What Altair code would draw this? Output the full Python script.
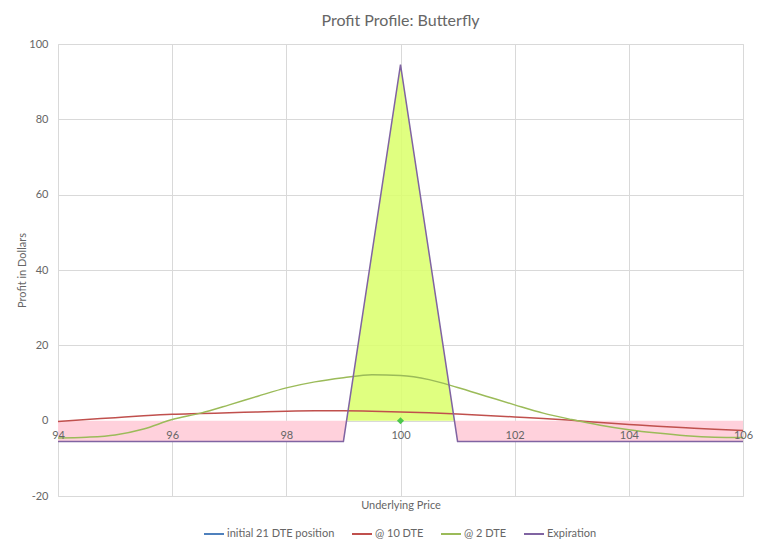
import altair as alt
import pandas as pd

# ---- data ----
prices = [94, 94.5, 95, 95.5, 96, 96.5, 97, 97.5, 98, 98.5, 99, 99.5, 100,
          100.5, 101, 101.5, 102, 102.5, 103, 103.5, 104, 104.5, 105, 105.5, 106]
pl_10dte = [-0.2, 0.3, 0.8, 1.3, 1.7, 1.9, 2.1, 2.3, 2.5, 2.6, 2.6, 2.5, 2.3,
            2.1, 1.8, 1.4, 1.0, 0.6, 0.1, -0.5, -1.0, -1.5, -1.9, -2.3, -2.6]
pl_2dte = [-4.6, -4.4, -3.8, -2.2, 0.3, 2.0, 4.2, 6.5, 8.7, 10.3, 11.4, 12.2, 12.0,
           10.9, 8.8, 6.5, 4.2, 2.0, 0.3, -1.2, -2.4, -3.3, -4.0, -4.4, -4.5]
exp_prices = [94, 99, 100, 101, 106]
exp_pl = [-5.5, -5.5, 94.5, -5.5, -5.5]
initial_price = [100]
initial_pl = [0]

x_ticks = [94, 96, 98, 100, 102, 104, 106]
y_ticks = [-20, 0, 20, 40, 60, 80, 100]

series_names = ["initial 21 DTE position", "@ 10 DTE", "@ 2 DTE", "Expiration"]
series_colors = ["#4F81BD", "#C0504D", "#9BBB59", "#8064A2"]

# ---- tables ----
df_lines = pd.concat([
    pd.DataFrame({"price": prices, "pl": pl_10dte, "series": "@ 10 DTE"}),
    pd.DataFrame({"price": prices, "pl": pl_2dte, "series": "@ 2 DTE"}),
])
df_exp = pd.DataFrame({"price": exp_prices, "pl": exp_pl, "series": "Expiration"})

# add zero crossings of the expiration profile for clean fills
pts = list(zip(exp_prices, exp_pl))
fill_x, fill_y = [], []
for i, (x0, y0) in enumerate(pts):
    fill_x.append(x0); fill_y.append(y0)
    if i + 1 < len(pts):
        x1, y1 = pts[i + 1]
        if (y0 < 0 < y1) or (y1 < 0 < y0):
            xc = x0 + (0 - y0) * (x1 - x0) / (y1 - y0)
            fill_x.append(xc); fill_y.append(0)
df_fill = pd.DataFrame({"price": fill_x, "pl": fill_y})
df_fill["pos"] = df_fill["pl"].clip(lower=0)
df_fill["neg"] = df_fill["pl"].clip(upper=0)
df_fill["zero"] = 0.0

df_init = pd.DataFrame({"price": initial_price, "pl": initial_pl,
                        "series": "initial 21 DTE position"})

FONT = "Lato"
GREY = "#666666"
W, H = 685, 452
ymin, ymax = y_ticks[0], y_ticks[-1]
zero_off = H * (0 - ymin) / (ymax - ymin)

xscale = alt.Scale(domain=[x_ticks[0], x_ticks[-1]], nice=False, zero=False)
yscale = alt.Scale(domain=[ymin, ymax], nice=False)

common = dict(labelFont=FONT, titleFont=FONT, labelColor=GREY, titleColor=GREY,
              labelFontSize=11, titleFontSize=11, titleFontWeight="normal",
              gridColor="#D9D9D9", gridWidth=1)

# grid + title axis (drawn beneath marks)
xaxis_grid = alt.Axis(values=x_ticks, orient="bottom", labels=False, domain=False,
                      ticks=False, grid=True, title="Underlying Price",
                      titlePadding=3, **common)
# label axis at the zero line (drawn above marks)
xaxis_labels = alt.Axis(values=x_ticks, orient="bottom", offset=-zero_off, format="d",
                        labelOverlap=False, grid=False, domain=False, ticks=False,
                        labelPadding=9, labelFlush=False, title=None, zindex=1, **common)
yaxis = alt.Axis(values=y_ticks, domain=False, ticks=False, labelOverlap=False,
                 labelExpr="toString(datum.value)", grid=True,
                 labelPadding=10, title="Profit in Dollars", titlePadding=1, **common)

color = alt.Color("series:N",
                  scale=alt.Scale(domain=series_names, range=series_colors),
                  legend=alt.Legend(title=None, orient="none", direction="horizontal",
                                    legendX=145, legendY=479, symbolType="stroke",
                                    symbolStrokeWidth=2, symbolSize=400,
                                    labelFontSize=11, labelColor=GREY, labelFont=FONT,
                                    columnPadding=13, labelOffset=2))

pos_area = alt.Chart(df_fill).mark_area(color="#DAFF6A", opacity=0.85).encode(
    x=alt.X("price:Q", scale=xscale, axis=xaxis_grid),
    y=alt.Y("pos:Q", scale=yscale, axis=yaxis),
    y2="zero:Q",
)
neg_area = alt.Chart(df_fill).mark_area(color="#FFD1DC", opacity=1).encode(
    x=alt.X("price:Q", scale=xscale, axis=xaxis_grid),
    y=alt.Y("neg:Q", scale=yscale, axis=yaxis),
    y2="zero:Q",
)
lines = alt.Chart(df_lines).mark_line(strokeWidth=1.5, interpolate="monotone").encode(
    x=alt.X("price:Q", scale=xscale, axis=xaxis_grid),
    y=alt.Y("pl:Q", scale=yscale, axis=yaxis),
    color=color,
    detail="series:N",
)
exp_line = alt.Chart(df_exp).mark_line(strokeWidth=1.5).encode(
    x=alt.X("price:Q", scale=xscale, axis=xaxis_grid),
    y=alt.Y("pl:Q", scale=yscale, axis=yaxis),
    color=color,
)
init_legend = alt.Chart(df_init).mark_line(opacity=0).encode(
    x=alt.X("price:Q", scale=xscale, axis=xaxis_grid),
    y=alt.Y("pl:Q", scale=yscale, axis=yaxis),
    color=color,
)
base = alt.layer(pos_area, neg_area, lines, exp_line, init_legend)

init_pt = alt.Chart(df_init).mark_point(shape="diamond", filled=True, size=50,
                                        color="#4CC84C", opacity=1).encode(
    x=alt.X("price:Q", scale=xscale, axis=xaxis_labels),
    y=alt.Y("pl:Q", scale=yscale, axis=yaxis),
)

chart = alt.layer(base, init_pt).resolve_axis(x="independent").properties(
    width=W, height=H,
    title=alt.TitleParams("Profit Profile: Butterfly", fontSize=16, color=GREY,
                          font=FONT, fontWeight="normal", offset=9, anchor="middle"),
    autosize=alt.AutoSizeParams(type="none"),
    padding={"left": 58, "top": 44, "right": 25, "bottom": 58},
).configure_view(stroke=None).configure(background="white")

chart.save("out.html", embed_options={"renderer": "svg", "actions": False})
